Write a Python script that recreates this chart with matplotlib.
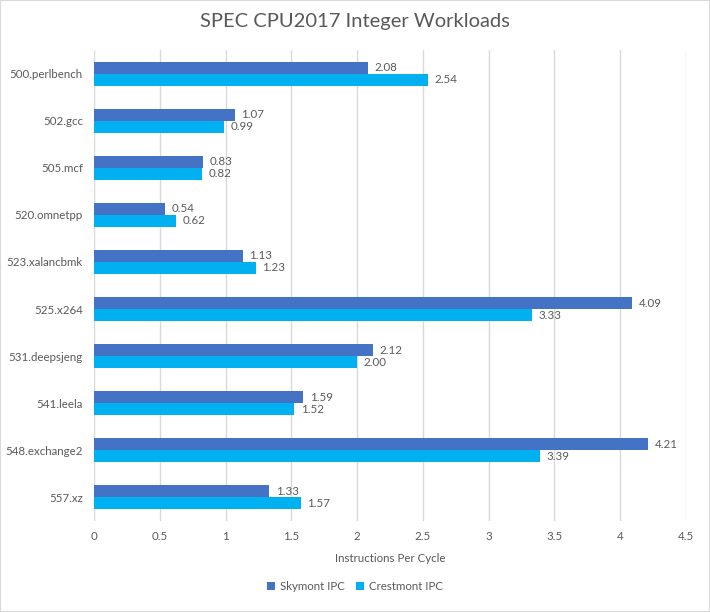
import numpy as np
import matplotlib.pyplot as plt
from matplotlib.patches import Rectangle

benchmarks = ['500.perlbench', '502.gcc', '505.mcf', '520.omnetpp', '523.xalancbmk',
              '525.x264', '531.deepsjeng', '541.leela', '548.exchange2', '557.xz']
skymont_ipc = [2.08, 1.07, 0.83, 0.54, 1.13, 4.09, 2.12, 1.59, 4.21, 1.33]
crestmont_ipc = [2.54, 0.99, 0.82, 0.62, 1.23, 3.33, 2.00, 1.52, 3.39, 1.57]
x_ticks = [0, 0.5, 1, 1.5, 2, 2.5, 3, 3.5, 4, 4.5]

plt.rcParams['font.family'] = ['Lato', 'DejaVu Sans']
text_color = '#595959'
sky_color = '#4472C4'
crest_color = '#00B0F0'
fs = 8.3

fig = plt.figure(figsize=(7.1, 6.12), dpi=100)
ax = fig.add_axes([94 / 710, 1 - 521 / 612, 592 / 710, 471 / 612])

y = np.arange(len(benchmarks))
h = 0.255
ax.barh(y - h / 2, skymont_ipc, height=h, color=sky_color, label='Skymont IPC', zorder=3)
ax.barh(y + h / 2, crestmont_ipc, height=h, color=crest_color, label='Crestmont IPC', zorder=3)

for i in range(len(benchmarks)):
    ax.text(skymont_ipc[i] + 0.05, y[i] - h / 2, f'{skymont_ipc[i]:.2f}', va='center', ha='left',
            fontsize=fs, color=text_color)
    ax.text(crestmont_ipc[i] + 0.05, y[i] + h / 2, f'{crestmont_ipc[i]:.2f}', va='center', ha='left',
            fontsize=fs, color=text_color)

ax.set_xlim(0, 4.5)
ax.set_ylim(len(benchmarks) - 0.5, -0.5)
ax.set_xticks(x_ticks)
ax.set_xticklabels([f'{t:g}' for t in x_ticks])
ax.set_yticks(y)
ax.set_yticklabels(benchmarks)
ax.tick_params(axis='both', length=0, labelsize=fs, colors=text_color)
ax.tick_params(axis='x', pad=7)
ax.tick_params(axis='y', pad=8)
ax.grid(axis='x', color='#D9D9D9', linewidth=1, zorder=0)
for s in ax.spines.values():
    s.set_visible(False)

ax.set_xlabel('Instructions Per Cycle', fontsize=fs, color=text_color, labelpad=8)
fig.text(0.5, 1 - 22 / 612, 'SPEC CPU2017 Integer Workloads', fontsize=14.5, color=text_color,
         ha='center', va='center')

fig.legend(loc='lower center', bbox_to_anchor=(0.5, 0.015), ncol=2, frameon=False, fontsize=fs,
           labelcolor=text_color, handlelength=0.7, handleheight=0.7, handletextpad=0.4,
           columnspacing=1.0)

fig.patches.append(Rectangle((0, 0), 1, 1, transform=fig.transFigure, fill=False,
                             edgecolor='#D9D9D9', linewidth=1.5))

fig.savefig('out.png', dpi=100)
